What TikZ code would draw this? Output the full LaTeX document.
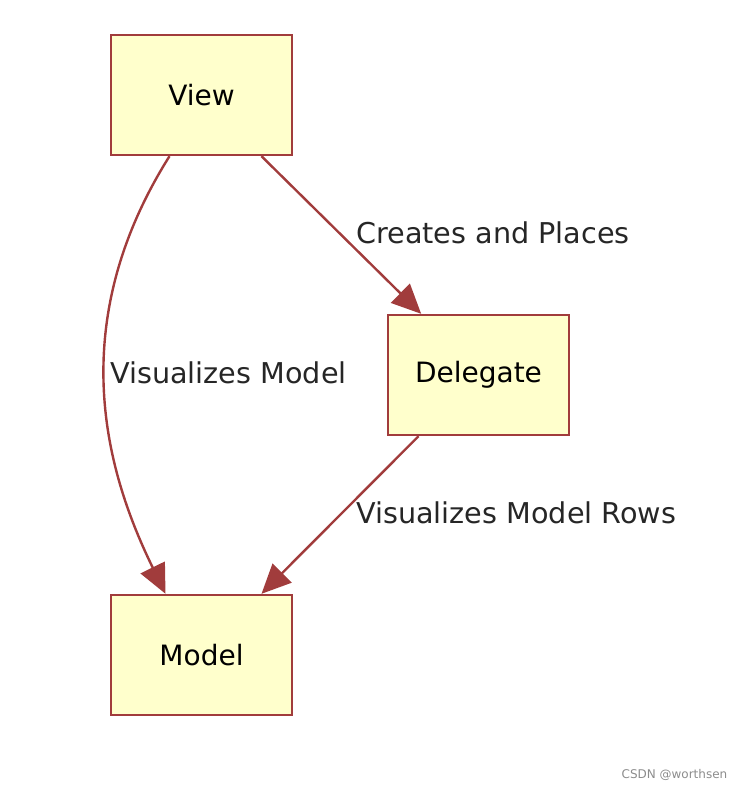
\documentclass[tikz,border=0pt]{standalone}
\usepackage{fontspec}
\setmainfont{DejaVu Sans}
\usetikzlibrary{arrows.meta,positioning}
\definecolor{boxfill}{HTML}{FFFFCC}
\definecolor{boxline}{HTML}{A13C3C}
\begin{document}
\begin{tikzpicture}[x=0.75pt,y=-0.75pt,>={Triangle[length=22pt,width=20pt]},
    block/.style={draw=boxline, line width=1.8pt, fill=boxfill, minimum width=135.75pt, minimum height=90pt, font=\fontsize{21}{25}\selectfont},
    link/.style={->, draw=boxline, line width=1.8pt, color=boxline},
    lbl/.style={font=\fontsize{21.5}{25}\selectfont, text=black!85, inner sep=0pt}]
    \useasboundingbox (0,0) rectangle (739,789);
    % Nodes
    \node[block] (view) at (201.5,95) {View};
    \node[block] (delegate) at (478.5,375) {Delegate};
    \node[block] (model) at (201.5,655) {Model};
    % Arrows and labels
    \draw[link] ([xshift=-24pt]view.south) .. controls (60,330) and (110,480) .. ([xshift=-27pt]model.north);
    \draw[link] ([xshift=45pt]view.south) -- ([xshift=-43pt]delegate.north);
    \draw[link] ([xshift=-45pt]delegate.south) -- ([xshift=45pt]model.north);
    \node[lbl, anchor=west] (createslbl) at (356,233) {Creates and Places};
    \node[lbl, anchor=west] (vismodellbl) at (110,373) {Visualizes Model};
    \node[lbl, anchor=west] (visrowslbl) at (356,513) {Visualizes Model Rows};
    \node[anchor=east, font=\fontsize{9}{11}\selectfont, text=black!45] (mark) at (732,775) {CSDN @worthsen};
\end{tikzpicture}
\end{document}
